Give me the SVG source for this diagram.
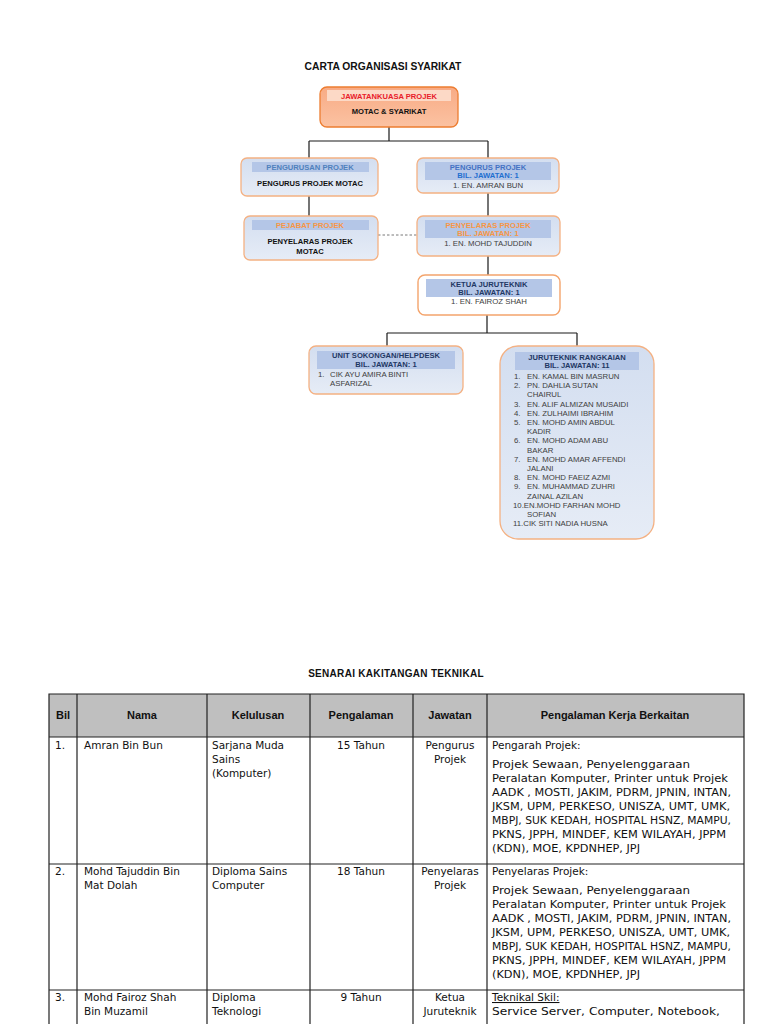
<svg xmlns="http://www.w3.org/2000/svg" width="768" height="1024" viewBox="0 0 768 1024">
<defs>
<linearGradient id="gTop" x1="0" y1="0" x2="0" y2="1"><stop offset="0" stop-color="#f8ab85"/><stop offset="1" stop-color="#fbc2a2"/></linearGradient>
<linearGradient id="gBlue" x1="0" y1="0" x2="0" y2="1"><stop offset="0" stop-color="#d3def0"/><stop offset="1" stop-color="#e6ecf6"/></linearGradient>
<style>
.box{fill:url(#gBlue);stroke:#f4b183;stroke-width:1.3}
.band{fill:#b4c6e7}
.h{font-family:"Liberation Sans",Arial,sans-serif;font-size:7.6px;font-weight:bold;text-anchor:middle}
.n{font-family:"Liberation Sans",Arial,sans-serif;font-size:7.8px;fill:#404040}
.nc{text-anchor:middle}
.conn{fill:none;stroke:#1a1a1a;stroke-width:1.2}
.tb{font-family:"DejaVu Sans",sans-serif;font-size:10.5px;fill:#111}
.th{font-family:"Liberation Sans",Arial,sans-serif;font-size:11px;font-weight:bold;text-anchor:middle;fill:#111}
.c{text-anchor:middle}
.grid{stroke:#222;stroke-width:1.2;fill:none}
</style>
</defs>
<rect width="768" height="1024" fill="#ffffff"/>
<text x="383" y="70" font-family="Liberation Sans,Arial,sans-serif" font-size="10.3" font-weight="bold" text-anchor="middle" fill="#111">CARTA ORGANISASI SYARIKAT</text>

<g id="connectors">
<path class="conn" d="M389 127V141M309 141H488M309 141V158M488 141V158M309 196V216M488 193V216M488 256V275M487 315V333M387 333H577M387 333V346M577 333V346"/>
<path d="M378 235H417" stroke="#555" stroke-width="0.8" stroke-dasharray="2.5,2" fill="none"/>
</g>

<g id="jawatankuasa">
<rect x="320" y="87" width="138" height="40" rx="7" fill="url(#gTop)" stroke="#ed7d31" stroke-width="1.3"/>
<rect x="327" y="90" width="124" height="11" fill="#fcd9c6"/>
<text class="h" x="389" y="98.5" fill="#e8202a">JAWATANKUASA PROJEK</text>
<text class="h" x="389" y="114" fill="#111">MOTAC &amp; SYARIKAT</text>
</g>

<g id="pengurusan">
<rect class="box" x="241" y="158" width="137" height="38" rx="6"/>
<rect class="band" x="252" y="162" width="117" height="10"/>
<text class="h" x="310" y="170" fill="#4f81bd">PENGURUSAN PROJEK</text>
<text class="h" x="310" y="186" fill="#111">PENGURUS PROJEK MOTAC</text>
</g>

<g id="pengurus">
<rect class="box" x="417" y="158" width="142" height="35" rx="6"/>
<rect class="band" x="425" y="162" width="126" height="18"/>
<text class="h" x="488" y="169.5" fill="#4472c4" font-weight="normal">PENGURUS PROJEK</text>
<text class="h" x="488" y="178" fill="#1f6fd0">BIL. JAWATAN: 1</text>
<text class="n nc" x="488" y="188">1. EN. AMRAN BUN</text>
</g>

<g id="pejabat">
<rect class="box" x="244" y="216" width="134" height="44" rx="6"/>
<rect class="band" x="252" y="220" width="117" height="10"/>
<text class="h" x="310" y="228" fill="#f79646">PEJABAT PROJEK</text>
<text class="h" x="310" y="244" fill="#111">PENYELARAS PROJEK</text>
<text class="h" x="310" y="254" fill="#111">MOTAC</text>
</g>

<g id="penyelaras">
<rect class="box" x="417" y="216" width="143" height="40" rx="6"/>
<rect class="band" x="425" y="220" width="126" height="18"/>
<text class="h" x="488" y="227.5" fill="#f79646">PENYELARAS PROJEK</text>
<text class="h" x="488" y="236" fill="#f79646">BIL. JAWATAN: 1</text>
<text class="n nc" x="488" y="246">1. EN. MOHD TAJUDDIN</text>
</g>

<g id="ketua">
<rect x="418" y="275" width="142" height="40" rx="7" fill="#ffffff" stroke="#f4a46c" stroke-width="1.4"/>
<rect class="band" x="426" y="279" width="126" height="18"/>
<text class="h" x="489" y="286.5" fill="#1f3864">KETUA JURUTEKNIK</text>
<text class="h" x="489" y="295" fill="#1f3864">BIL. JAWATAN: 1</text>
<text class="n nc" x="489" y="304">1. EN. FAIROZ SHAH</text>
</g>

<g id="unit">
<rect class="box" x="309" y="346" width="154" height="48" rx="7"/>
<rect class="band" x="317" y="351" width="138" height="18"/>
<text class="h" x="386" y="358" fill="#1f3864">UNIT SOKONGAN/HELPDESK</text>
<text class="h" x="386" y="367" fill="#1f3864">BIL. JAWATAN: 1</text>
<text class="n" x="318" y="377">1.</text>
<text class="n" x="330" y="377">CIK AYU AMIRA BINTI</text>
<text class="n" x="330" y="386">ASFARIZAL</text>
</g>

<g id="rangkaian">
<rect class="box" x="500" y="346" width="154" height="193" rx="18"/>
<rect class="band" x="515" y="352" width="124" height="18"/>
<text class="h" x="577" y="359.5" fill="#1f3864">JURUTEKNIK RANGKAIAN</text>
<text class="h" x="577" y="368" fill="#1f3864">BIL. JAWATAN: 11</text>
<text class="n" x="514" y="379">1.</text><text class="n" x="527" y="379">EN. KAMAL BIN MASRUN</text>
<text class="n" x="514" y="388.2">2.</text><text class="n" x="527" y="388.2">PN. DAHLIA  SUTAN</text>
<text class="n" x="527" y="397.4">CHAIRUL</text>
<text class="n" x="514" y="406.6">3.</text><text class="n" x="527" y="406.6">EN. ALIF ALMIZAN MUSAIDI</text>
<text class="n" x="514" y="415.8">4.</text><text class="n" x="527" y="415.8">EN. ZULHAIMI  IBRAHIM</text>
<text class="n" x="514" y="425">5.</text><text class="n" x="527" y="425">EN. MOHD AMIN ABDUL</text>
<text class="n" x="527" y="434.2">KADIR</text>
<text class="n" x="514" y="443.4">6.</text><text class="n" x="527" y="443.4">EN. MOHD ADAM ABU</text>
<text class="n" x="527" y="452.6">BAKAR</text>
<text class="n" x="514" y="461.8">7.</text><text class="n" x="527" y="461.8">EN. MOHD AMAR AFFENDI</text>
<text class="n" x="527" y="471">JALANI</text>
<text class="n" x="514" y="480.2">8.</text><text class="n" x="527" y="480.2">EN. MOHD FAEIZ AZMI</text>
<text class="n" x="514" y="489.4">9.</text><text class="n" x="527" y="489.4">EN. MUHAMMAD ZUHRI</text>
<text class="n" x="527" y="498.6">ZAINAL AZILAN</text>
<text class="n" x="513" y="507.8">10.EN.MOHD FARHAN MOHD</text>
<text class="n" x="527" y="517">SOFIAN</text>
<text class="n" x="513" y="526.2">11.CIK SITI NADIA HUSNA</text>
</g>

<text x="396" y="677" font-family="Liberation Sans,Arial,sans-serif" font-size="10" font-weight="bold" text-anchor="middle" fill="#111" letter-spacing="0.3">SENARAI KAKITANGAN TEKNIKAL</text>

<g id="table">
<rect x="49" y="694" width="695" height="43" fill="#bfbfbf"/>
<path class="grid" d="M49 1030V694H744V1030M49 737H744M49 864H744M49 990H744M77 694V1030M207 694V1030M310 694V1030M413 694V1030M487 694V1030"/>
<text class="th" x="63" y="719">Bil</text>
<text class="th" x="142" y="719">Nama</text>
<text class="th" x="258" y="719">Kelulusan</text>
<text class="th" x="361" y="719">Pengalaman</text>
<text class="th" x="450" y="719">Jawatan</text>
<text class="th" x="615" y="719">Pengalaman Kerja Berkaitan</text>

<text class="tb" x="55" y="749">1.</text>
<text class="tb" x="84" y="749">Amran Bin Bun</text>
<text class="tb" x="212" y="749">Sarjana Muda</text>
<text class="tb" x="212" y="763">Sains</text>
<text class="tb" x="212" y="777">(Komputer)</text>
<text class="tb c" x="361" y="749">15 Tahun</text>
<text class="tb c" x="450" y="749">Pengurus</text>
<text class="tb c" x="450" y="763">Projek</text>
<text class="tb" x="492" y="749">Pengarah Projek:</text>
<text class="tb" x="492" y="768" textLength="198" lengthAdjust="spacingAndGlyphs">Projek Sewaan, Penyelenggaraan</text>
<text class="tb" x="492" y="782" textLength="236" lengthAdjust="spacingAndGlyphs">Peralatan  Komputer, Printer  untuk Projek</text>
<text class="tb" x="492" y="796" textLength="239" lengthAdjust="spacingAndGlyphs">AADK , MOSTI, JAKIM, PDRM, JPNIN, INTAN,</text>
<text class="tb" x="492" y="810" textLength="238" lengthAdjust="spacingAndGlyphs">JKSM, UPM, PERKESO, UNISZA, UMT, UMK,</text>
<text class="tb" x="492" y="824" textLength="239" lengthAdjust="spacingAndGlyphs">MBPJ, SUK KEDAH, HOSPITAL HSNZ, MAMPU,</text>
<text class="tb" x="492" y="838" textLength="234" lengthAdjust="spacingAndGlyphs">PKNS, JPPH, MINDEF, KEM WILAYAH, JPPM</text>
<text class="tb" x="492" y="852" textLength="148" lengthAdjust="spacingAndGlyphs">(KDN), MOE, KPDNHEP, JPJ</text>

<text class="tb" x="55" y="875">2.</text>
<text class="tb" x="84" y="875">Mohd Tajuddin Bin</text>
<text class="tb" x="84" y="889">Mat Dolah</text>
<text class="tb" x="212" y="875">Diploma Sains</text>
<text class="tb" x="212" y="889">Computer</text>
<text class="tb c" x="361" y="875">18 Tahun</text>
<text class="tb c" x="450" y="875">Penyelaras</text>
<text class="tb c" x="450" y="889">Projek</text>
<text class="tb" x="492" y="875">Penyelaras Projek:</text>
<text class="tb" x="492" y="894" textLength="198" lengthAdjust="spacingAndGlyphs">Projek Sewaan, Penyelenggaraan</text>
<text class="tb" x="492" y="908" textLength="234" lengthAdjust="spacingAndGlyphs">Peralatan Komputer, Printer untuk Projek</text>
<text class="tb" x="492" y="922" textLength="239" lengthAdjust="spacingAndGlyphs">AADK , MOSTI, JAKIM, PDRM, JPNIN, INTAN,</text>
<text class="tb" x="492" y="936" textLength="238" lengthAdjust="spacingAndGlyphs">JKSM, UPM, PERKESO, UNISZA, UMT, UMK,</text>
<text class="tb" x="492" y="950" textLength="239" lengthAdjust="spacingAndGlyphs">MBPJ, SUK KEDAH, HOSPITAL HSNZ, MAMPU,</text>
<text class="tb" x="492" y="964" textLength="234" lengthAdjust="spacingAndGlyphs">PKNS, JPPH, MINDEF, KEM WILAYAH, JPPM</text>
<text class="tb" x="492" y="978" textLength="148" lengthAdjust="spacingAndGlyphs">(KDN), MOE, KPDNHEP, JPJ</text>

<text class="tb" x="55" y="1001">3.</text>
<text class="tb" x="84" y="1001">Mohd Fairoz Shah</text>
<text class="tb" x="84" y="1015">Bin Muzamil</text>
<text class="tb" x="212" y="1001">Diploma</text>
<text class="tb" x="212" y="1015">Teknologi</text>
<text class="tb c" x="361" y="1001">9 Tahun</text>
<text class="tb c" x="450" y="1001">Ketua</text>
<text class="tb c" x="450" y="1015">Juruteknik</text>
<text class="tb" x="492" y="1001" text-decoration="underline">Teknikal Skil:</text>
<text class="tb" x="492" y="1015" textLength="228" lengthAdjust="spacingAndGlyphs">Service Server, Computer, Notebook,</text>
</g>
</svg>
